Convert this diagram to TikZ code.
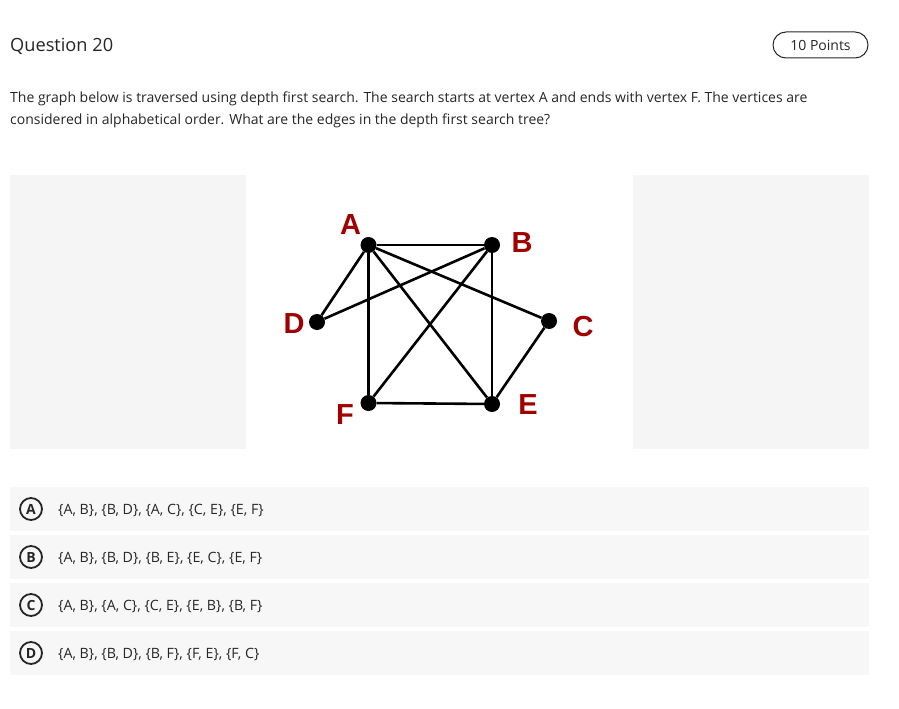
\documentclass[tikz,border=0pt]{standalone}
\usepackage{fontspec}
\setmainfont{Open Sans}
\newfontfamily\labelfont{Liberation Sans}
\usetikzlibrary{positioning}

\definecolor{txtgrey}{HTML}{262626}
\definecolor{panelgrey}{HTML}{F5F5F5}
\definecolor{optgrey}{HTML}{F7F7F7}
\definecolor{vertred}{HTML}{A00000}

\tikzset{
    dot/.style={circle,fill=black,inner sep=0pt,minimum size=16pt},
    edge/.style={line width=2.6pt},
    vlabel/.style={font=\labelfont\bfseries\fontsize{29}{29}\selectfont,text=vertred,inner sep=0pt},
    optletter/.style={circle,draw=txtgrey,line width=1.8pt,inner sep=0pt,minimum size=22pt,
        font=\bfseries\fontsize{14}{14}\selectfont,text=txtgrey},
    opttext/.style={anchor=base west,font=\fontsize{14.2}{16}\selectfont,text=txtgrey,inner sep=0pt},
    bodytext/.style={anchor=base west,font=\fontsize{14}{16}\selectfont,text=txtgrey,inner sep=0pt}
}

\begin{document}
\begin{tikzpicture}[x=1pt,y=-1pt]
    \useasboundingbox (0,0) rectangle (899,709);
    \fill[white] (0,0) rectangle (899,709);

    % Header
    \node[anchor=base west,font=\fontsize{18.2}{21}\selectfont,text=txtgrey,inner sep=0pt] (title) at (10,52) {Question 20};
    \draw[txtgrey,line width=1pt,rounded corners=13pt] (773,32) rectangle (868,58);
    \node[font=\fontsize{14}{16}\selectfont,text=txtgrey] (points) at (820.5,45) {10 Points};

    % Question text
    \node[bodytext] (line1) at (10,102) {The graph below is traversed using depth first search. The search starts at vertex A and ends with vertex F. The vertices are};
    \node[bodytext] (line2) at (10,124) {considered in alphabetical order. What are the edges in the depth first search tree?};

    % Side panels
    \fill[panelgrey] (10,175) rectangle (246,449);
    \fill[panelgrey] (633,175) rectangle (869,449);

    % Graph
    \node[dot] (A) at (368.5,245) {};
    \node[dot] (B) at (492,245) {};
    \node[dot] (C) at (549,321) {};
    \node[dot] (D) at (317,322) {};
    \node[dot] (E) at (492,404) {};
    \node[dot] (F) at (368.5,403) {};
    \foreach \u/\v in {A/B,A/C,A/D,A/E,A/F,B/D,B/E,B/F,C/E,E/F}
        \draw[edge] (\u) -- (\v);

    \node[vlabel] at (350.5,225) {A};
    \node[vlabel] at (522,243) {B};
    \node[vlabel] at (583,327) {C};
    \node[vlabel] at (294,324) {D};
    \node[vlabel] at (528,405) {E};
    \node[vlabel] at (345,415) {F};

    % Answer options
    \foreach \y/\l/\t in {0/A/{\{A, B\}, \{B, D\}, \{A, C\}, \{C, E\}, \{E, F\}},
                          1/B/{\{A, B\}, \{B, D\}, \{B, E\}, \{E, C\}, \{E, F\}},
                          2/C/{\{A, B\}, \{A, C\}, \{C, E\}, \{E, B\}, \{B, F\}},
                          3/D/{\{A, B\}, \{B, D\}, \{B, F\}, \{F, E\}, \{F, C\}}} {
        \begin{scope}[yshift=-\y*48pt]
            \fill[optgrey] (10,487) rectangle (869,530.5);
            \node[optletter] (opt\l) at (31,509) {\l};
            \node[opttext] (ans\l) at (58,514) {\t};
        \end{scope}
    }
\end{tikzpicture}
\end{document}
